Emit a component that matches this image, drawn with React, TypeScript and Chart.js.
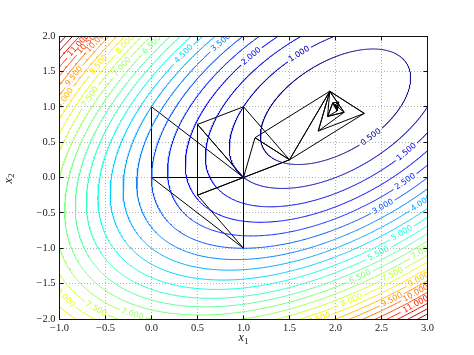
import React, { useEffect, useRef } from "react";
import { Chart, registerables } from "chart.js";

Chart.register(...registerables);

// ---- axes ----
const X_MIN = -1;
const X_MAX = 3;
const Y_MIN = -2;
const Y_MAX = 2;
const TICK_STEP = 0.5;

// ---- objective: f = a*u^2 + b*u*v + c*v^2, u = x1 - cx, v = x2 - cy ----
const F_CENTER = [2, 1];
const F_COEFFS = [1, -1, 1];
const LEVELS = [0.5, 1, 1.5, 2, 2.5, 3, 3.5, 4, 4.5, 5, 5.5, 6, 6.5, 7, 7.5, 8, 8.5, 9, 9.5, 10, 10.5, 11, 11.5, 12, 12.5];

// ---- contour label positions (approximate) ----
const LABEL_LEVELS = [11, 10.5, 10, 9.5, 9, 8.5, 8, 7.5, 7, 6.5, 4.5, 3.5, 2, 1, 0.5, 1.5, 2.5, 3, 4, 5, 5.5, 7, 6.5, 7.5, 9, 8, 9.5, 10, 11, 8.5, 8, 7.5, 7];
const LABEL_X1 = [-0.793, -0.707, -0.62, -0.826, -0.967, -0.576, -0.293, -0.685, -0.315, 0.011, 0.337, 0.75, 1.098, 1.598, 2.37, 2.761, 2.761, 2.489, 2.924, 2.707, 2.467, 2.946, 2.25, 2.62, 2.891, 2.163, 2.598, 2.848, 2.87, 1.815, -0.935, -0.609, -0.196];
const LABEL_X2 = [1.883, 1.925, 1.954, 1.418, 1.15, 1.587, 1.883, 1.165, 1.559, 1.855, 1.77, 1.911, 1.7, 1.756, 0.6, 0.376, -0.06, -0.356, -0.356, -0.763, -1.088, -1.046, -1.37, -1.37, -1.427, -1.694, -1.68, -1.596, -1.793, -1.948, -1.694, -1.863, -1.906];

// ---- simplex triangles (vertex x1 / x2 per triangle) ----
const SIMPLEX_X1 = [
  [0, 0, 1],
  [0, 1, 1],
  [1, 1, 0.5],
  [1, 0.5, 0.5],
  [1, 0.5, 1],
  [1, 1, 1.5],
  [1, 1.125, 1.5],
  [1.125, 1.5, 1.9375],
  [1.5, 1.9375, 2.3125],
  [1.9375, 2.3125, 1.8125],
  [1.9375, 1.8125, 2.09375],
  [1.9375, 2.09375, 1.9140625],
  [2.09375, 1.9140625, 1.970703],
  [1.9140625, 1.970703, 2.018066],
  [1.970703, 2.018066, 2.034546],
  [2.018066, 2.034546, 1.998505],
  [2.034546, 1.998505, 2.017296],
  [1.998505, 2.017296, 1.994578],
];
const SIMPLEX_X2 = [
  [1, 0, 0],
  [0, 0, -1],
  [0, -1, -0.25],
  [0, -0.25, 0.75],
  [0, 0.75, 1],
  [0, 1, 0.25],
  [0, 0.5625, 0.25],
  [0.5625, 0.25, 1.21875],
  [0.25, 1.21875, 0.90625],
  [1.21875, 0.90625, 0.65625],
  [1.21875, 0.65625, 0.921875],
  [1.21875, 0.921875, 0.86328125],
  [0.921875, 0.86328125, 1.055664],
  [0.86328125, 1.055664, 0.940674],
  [1.055664, 0.940674, 1.065613],
  [0.940674, 1.065613, 1.029404],
  [1.065613, 1.029404, 0.994091],
  [1.029404, 0.994091, 0.984815],
];

// ---- jet colormap ----
const JET_R = [[0, 0], [0.35, 0], [0.66, 1], [0.89, 1], [1, 0.5]];
const JET_G = [[0, 0], [0.125, 0], [0.375, 1], [0.64, 1], [0.91, 0], [1, 0]];
const JET_B = [[0, 0.5], [0.11, 1], [0.34, 1], [0.65, 0], [1, 0]];

function interp(seg: number[][], t: number) {
  for (let i = 1; i < seg.length; i++) {
    if (t <= seg[i][0]) {
      const [t0, v0] = seg[i - 1];
      const [t1, v1] = seg[i];
      return v0 + ((v1 - v0) * (t - t0)) / (t1 - t0);
    }
  }
  return seg[seg.length - 1][1];
}
function jet(t: number) {
  const r = Math.round(255 * interp(JET_R, t));
  const g = Math.round(255 * interp(JET_G, t));
  const b = Math.round(255 * interp(JET_B, t));
  return `rgb(${r},${g},${b})`;
}
function levelColor(L: number) {
  const lo = LEVELS[0];
  const hi = LEVELS[LEVELS.length - 1];
  return jet((L - lo) / (hi - lo));
}

const N_PTS = 1080;
function ellipsePoints(level: number) {
  const [a, b, c] = F_COEFFS;
  const [cx, cy] = F_CENTER;
  const pts: { x: number; y: number }[] = [];
  for (let i = 0; i <= N_PTS; i++) {
    const th = (2 * Math.PI * i) / N_PTS;
    const co = Math.cos(th);
    const si = Math.sin(th);
    const r = Math.sqrt(level / (a * co * co + b * co * si + c * si * si));
    pts.push({ x: cx + r * co, y: cy + r * si });
  }
  return pts;
}

const LABEL_FONT = '8px "DejaVu Sans"';
const TICK_FONT_FAMILY = '"Liberation Serif", "DejaVu Serif", serif';

type Geom = { x: number; y: number; ang: number; hw: number; text: string; color: string };

export default function App() {
  const ref = useRef<HTMLCanvasElement>(null);

  useEffect(() => {
    const canvas = ref.current;
    if (!canvas) return;
    const measureCtx = document.createElement("canvas").getContext("2d")!;
    const geomCache = new Map<number, Geom>();

    const labelGeom = (chart: any, li: number): Geom => {
      const cached = geomCache.get(li);
      if (cached) return cached;
      const L = LABEL_LEVELS[li];
      const dsIndex = LEVELS.indexOf(L);
      const pts = chart.getDatasetMeta(dsIndex).data;
      const tx = chart.scales.x.getPixelForValue(LABEL_X1[li]);
      const ty = chart.scales.y.getPixelForValue(LABEL_X2[li]);
      let best = 0;
      let bd = Infinity;
      for (let i = 0; i < N_PTS; i++) {
        const d = (pts[i].x - tx) ** 2 + (pts[i].y - ty) ** 2;
        if (d < bd) {
          bd = d;
          best = i;
        }
      }
      const p0 = pts[(best - 2 + N_PTS) % N_PTS];
      const p1 = pts[(best + 2) % N_PTS];
      let ang = Math.atan2(p1.y - p0.y, p1.x - p0.x);
      if (ang > Math.PI / 2) ang -= Math.PI;
      if (ang < -Math.PI / 2) ang += Math.PI;
      const text = L.toFixed(3);
      measureCtx.font = LABEL_FONT;
      const w = measureCtx.measureText(text).width;
      const g = { x: pts[best].x, y: pts[best].y, ang, hw: w / 2 + 2.5, text, color: levelColor(L) };
      geomCache.set(li, g);
      return g;
    };

    const segHidden = (ctx: any, L: number) => {
      const chart = ctx.chart;
      const mx = (ctx.p0.x + ctx.p1.x) / 2;
      const my = (ctx.p0.y + ctx.p1.y) / 2;
      for (let li = 0; li < LABEL_LEVELS.length; li++) {
        if (LABEL_LEVELS[li] !== L) continue;
        const g = labelGeom(chart, li);
        const dx = mx - g.x;
        const dy = my - g.y;
        const ca = Math.cos(g.ang);
        const sa = Math.sin(g.ang);
        const along = dx * ca + dy * sa;
        const perp = -dx * sa + dy * ca;
        if (Math.abs(along) < g.hw && Math.abs(perp) < 6) return true;
      }
      return false;
    };

    const datasets: any[] = [];
    LEVELS.forEach((L) => {
      datasets.push({
        data: ellipsePoints(L),
        borderColor: levelColor(L),
        borderWidth: 1,
        pointRadius: 0,
        showLine: true,
        fill: false,
        tension: 0,
        clip: 0,
        segment: {
          borderColor: (ctx: any) => (segHidden(ctx, L) ? "rgba(0,0,0,0)" : undefined),
        },
      });
    });
    SIMPLEX_X1.forEach((xs, k) => {
      const ys = SIMPLEX_X2[k];
      datasets.push({
        data: [0, 1, 2, 0].map((j) => ({ x: xs[j], y: ys[j] })),
        borderColor: "#000",
        borderWidth: 1,
        pointRadius: 0,
        showLine: true,
        fill: false,
        tension: 0,
        clip: 0,
      });
    });

    const labelPlugin = {
      id: "contourLabels",
      afterUpdate() {
        geomCache.clear();
      },
      afterDatasetsDraw(chart: any) {
        const { ctx, chartArea: ca } = chart;
        ctx.save();
        ctx.beginPath();
        ctx.rect(ca.left, ca.top, ca.right - ca.left, ca.bottom - ca.top);
        ctx.clip();
        ctx.font = LABEL_FONT;
        ctx.textAlign = "center";
        ctx.textBaseline = "middle";
        for (let li = 0; li < LABEL_LEVELS.length; li++) {
          const g = labelGeom(chart, li);
          ctx.save();
          ctx.translate(g.x, g.y);
          ctx.rotate(g.ang);
          ctx.fillStyle = g.color;
          ctx.fillText(g.text, 0, 0);
          ctx.restore();
        }
        ctx.restore();

        // frame + inward ticks
        ctx.save();
        ctx.strokeStyle = "#111";
        ctx.lineWidth = 1;
        const l = Math.floor(ca.left) + 0.5;
        const r = Math.floor(ca.right) + 0.5;
        const t = Math.floor(ca.top) + 0.5;
        const b = Math.floor(ca.bottom) + 0.5;
        ctx.strokeRect(l, t, r - l, b - t);
        ctx.beginPath();
        chart.scales.x.ticks.forEach((tk: any) => {
          const px = Math.floor(chart.scales.x.getPixelForValue(tk.value)) + 0.5;
          ctx.moveTo(px, b);
          ctx.lineTo(px, b - 4);
          ctx.moveTo(px, t);
          ctx.lineTo(px, t + 4);
        });
        chart.scales.y.ticks.forEach((tk: any) => {
          const py = Math.floor(chart.scales.y.getPixelForValue(tk.value)) + 0.5;
          ctx.moveTo(l, py);
          ctx.lineTo(l + 4, py);
          ctx.moveTo(r, py);
          ctx.lineTo(r - 4, py);
        });
        ctx.stroke();
        ctx.restore();
      },
      afterDraw(chart: any) {
        const { ctx, chartArea: ca } = chart;
        const drawSub = (base: string, sub: string) => {
          ctx.font = `italic 12px ${TICK_FONT_FAMILY}`;
          const wb = ctx.measureText(base).width;
          ctx.font = `8.5px ${TICK_FONT_FAMILY}`;
          const ws = ctx.measureText(sub).width;
          const x0 = -(wb + ws + 0.5) / 2;
          ctx.textAlign = "left";
          ctx.textBaseline = "alphabetic";
          ctx.font = `italic 12px ${TICK_FONT_FAMILY}`;
          ctx.fillText(base, x0, 0);
          ctx.font = `8.5px ${TICK_FONT_FAMILY}`;
          ctx.fillText(sub, x0 + wb + 0.5, 2.5);
        };
        ctx.save();
        ctx.fillStyle = "#111";
        ctx.translate((ca.left + ca.right) / 2, ca.bottom + 22);
        drawSub("x", "1");
        ctx.restore();
        ctx.save();
        ctx.fillStyle = "#111";
        ctx.translate(ca.left - 48, (ca.top + ca.bottom) / 2 + 1);
        ctx.rotate(-Math.PI / 2);
        drawSub("x", "2");
        ctx.restore();
      },
    };

    const fmt = (v: any) => Number(v).toFixed(1).replace("-", "\u2212");

    const chart = new Chart(canvas, {
      type: "scatter",
      data: { datasets },
      options: {
        animation: false,
        responsive: false,
        devicePixelRatio: 1,
        events: [],
        layout: { padding: { left: 0.5, right: 46.5, top: 36, bottom: 0 } },
        plugins: { legend: { display: false }, tooltip: { enabled: false }, title: { display: false } },
        scales: {
          x: {
            type: "linear",
            min: X_MIN,
            max: X_MAX,
            afterFit: (s: any) => {
              s.height = 36;
            },
            ticks: {
              stepSize: TICK_STEP,
              autoSkip: false,
              maxRotation: 0,
              padding: 3,
              color: "#222",
              font: { family: TICK_FONT_FAMILY, size: 10.5 },
              callback: fmt,
            },
            grid: { color: "rgba(0,0,0,0.3)", lineWidth: 1, drawTicks: false },
            border: { display: false, dash: [1, 2] },
          },
          y: {
            type: "linear",
            min: Y_MIN,
            max: Y_MAX,
            afterFit: (s: any) => {
              s.width = 59;
            },
            ticks: {
              stepSize: TICK_STEP,
              autoSkip: false,
              padding: 4,
              color: "#222",
              font: { family: TICK_FONT_FAMILY, size: 10.5 },
              callback: fmt,
            },
            grid: { color: "rgba(0,0,0,0.3)", lineWidth: 1, drawTicks: false },
            border: { display: false, dash: [1, 2] },
          },
        },
      } as any,
      plugins: [labelPlugin],
    });

    return () => {
      chart.destroy();
    };
  }, []);

  return (
    <div style={{ position: "absolute", left: 0, top: 0, width: 474, height: 355, background: "#fff" }}>
      <canvas ref={ref} width={474} height={355} style={{ display: "block", width: 474, height: 355 }} />
    </div>
  );
}
